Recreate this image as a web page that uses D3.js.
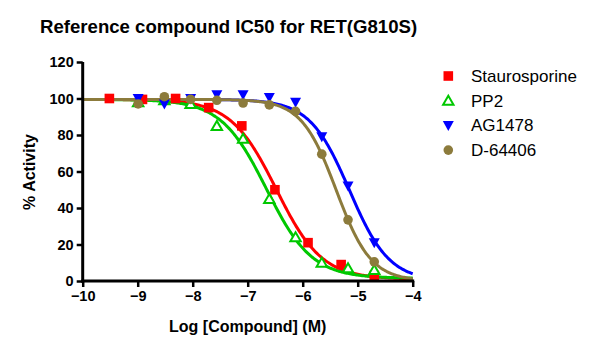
<!DOCTYPE html>
<html>
<head>
<meta charset="utf-8">
<script src="https://cdn.jsdelivr.net/npm/d3@7"></script>
<style>
  body { margin: 0; background: #fff; }
  svg text { font-family: Arial, "Liberation Sans", sans-serif; }
</style>
</head>
<body>
<svg width="600" height="351"></svg>
<script>
// compound names and colours
const compounds = ["Staurosporine", "PP2", "AG1478", "D-64406"];
const colors = ["#ff0000", "#00c800", "#0000ff", "#8c7b3c"];

// log concentrations (M)
const logConc4 = [-9.515, -8.913, -8.311, -7.709, -7.107, -6.505, -5.903, -5.301, -4.699];
const logConc3 = [-8.992, -8.515, -8.038, -7.561, -7.084, -6.607, -6.130, -5.653, -5.176, -4.699];

// % activity
const stauroValues = [100, 99.5, 100, 95, 85, 50, 21, 9, 3];
const pp2Values = [98, 99, 97, 85, 78, 45, 24, 10, 7, 6];
const ag1478Values = [100, 97, 100, 102, 102, 100.5, 98, 79, 52, 21];
const d64406Values = [97, 101, 99.5, 99, 97.5, 96.5, 93, 69.5, 33.5, 10.5];

// 4PL fit parameters: [bottom, top, logIC50, hill]
const stauroFit = [1, 99.5, -6.48, 1.05];
const pp2Fit = [1.5, 99.5, -6.66, 1.05];
const ag1478Fit = [0, 99.5, -5.15, 1.2];
const d64406Fit = [0, 99.5, -5.39, 1.37];

const xTicks = [-10, -9, -8, -7, -6, -5, -4];
const yTicks = [0, 20, 40, 60, 80, 100, 120];

const series = [
  { name: compounds[0], x: logConc4, y: stauroValues, fit: stauroFit, shape: "square" },
  { name: compounds[1], x: logConc3, y: pp2Values, fit: pp2Fit, shape: "triangle" },
  { name: compounds[2], x: logConc3, y: ag1478Values, fit: ag1478Fit, shape: "down" },
  { name: compounds[3], x: logConc3, y: d64406Values, fit: d64406Fit, shape: "circle" },
];

const svg = d3.select("svg");
const x = d3.scaleLinear().domain([-10, -4]).range([82.7, 412.7]);
const y = d3.scaleLinear().domain([0, 120]).range([281, 62]);

// title
svg.append("text")
  .attr("x", 40).attr("y", 33)
  .attr("font-size", 18.6).attr("font-weight", "bold")
  .text("Reference compound IC50 for RET(G810S)");

// curves
const fourPL = (p, lx) => p[0] + (p[1] - p[0]) / (1 + Math.pow(10, (lx - p[2]) * p[3]));
const line = d3.line().x((d) => x(d[0])).y((d) => y(d[1]));
const gCurves = svg.append("g");
series.forEach((s, i) => {
  const pts = d3.range(-10, -3.999, 0.02).map((lx) => [lx, fourPL(s.fit, lx)]);
  gCurves.append("path")
    .attr("d", line(pts))
    .attr("fill", "none")
    .attr("stroke", colors[i])
    .attr("stroke-width", 3);
});

function drawMarker(g, shape, color, cx, cy) {
  if (shape === "square") {
    g.append("rect").attr("x", cx - 4.8).attr("y", cy - 4.8)
      .attr("width", 9.6).attr("height", 9.6).attr("fill", color);
  } else if (shape === "triangle") {
    g.append("path")
      .attr("d", `M${cx},${cy - 5} L${cx + 5.2},${cy + 4} L${cx - 5.2},${cy + 4} Z`)
      .attr("fill", "#fff").attr("stroke", color).attr("stroke-width", 2);
  } else if (shape === "down") {
    g.append("path")
      .attr("d", `M${cx - 5.5},${cy - 4.5} L${cx + 5.5},${cy - 4.5} L${cx},${cy + 5.5} Z`)
      .attr("fill", color);
  } else {
    g.append("circle").attr("cx", cx).attr("cy", cy).attr("r", 4.8).attr("fill", color);
  }
}

// points
const gPts = svg.append("g");
series.forEach((s, i) => {
  s.x.forEach((lx, j) => drawMarker(gPts, s.shape, colors[i], x(lx), y(s.y[j])));
});

// axes
const xAxis = svg.append("g").attr("transform", "translate(0,281)")
  .call(d3.axisBottom(x).tickValues(xTicks).tickFormat(d3.format("d")).tickSize(6).tickPadding(4));
const yAxis = svg.append("g").attr("transform", "translate(82.7,0)")
  .call(d3.axisLeft(y).tickValues(yTicks).tickSize(6).tickPadding(3));
[xAxis, yAxis].forEach((a) => {
  a.select(".domain").attr("stroke", "#000").attr("stroke-width", 3);
  a.selectAll(".tick line").attr("stroke", "#000").attr("stroke-width", 2.5);
  a.selectAll(".tick text").attr("font-size", 14.5).attr("font-weight", "bold")
    .attr("fill", "#000").attr("font-family", "Arial, 'Liberation Sans', sans-serif");
});
xAxis.select(".domain").attr("d", "M81.2,0H414.2");
yAxis.select(".domain").attr("d", "M0,62V282.5");

// axis titles
svg.append("text")
  .attr("x", x(-7)).attr("y", 332)
  .attr("text-anchor", "middle")
  .attr("font-size", 16).attr("font-weight", "bold")
  .text("Log [Compound] (M)");
svg.append("text")
  .attr("transform", "translate(35,172) rotate(-90)")
  .attr("text-anchor", "middle")
  .attr("font-size", 16).attr("font-weight", "bold")
  .text("% Activity");

// legend
const gLeg = svg.append("g");
series.forEach((s, i) => {
  const ly = 76 + i * 24.7;
  drawMarker(gLeg, s.shape, colors[i], 448.3, ly);
  gLeg.append("text")
    .attr("x", 471).attr("y", ly + 6)
    .attr("font-size", 17)
    .text(s.name);
});
</script>
</body>
</html>
